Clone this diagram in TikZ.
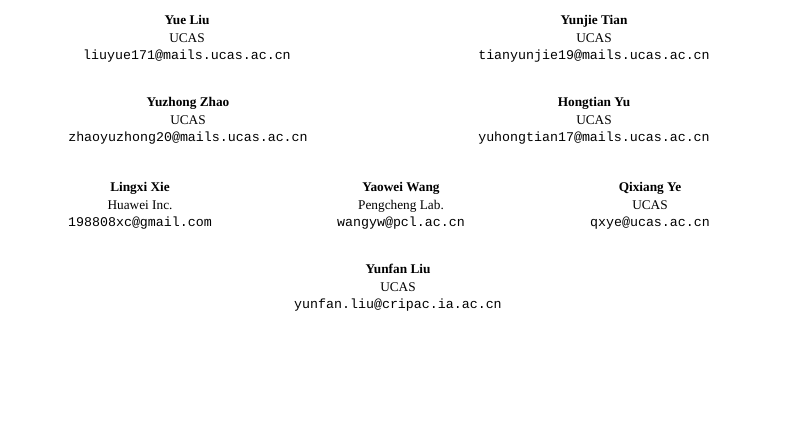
\documentclass[tikz,border=0pt]{standalone}
\usepackage{fontspec}
\setmainfont{Liberation Serif}
\setmonofont{Liberation Mono}
\begin{document}
\begin{tikzpicture}[x=1pt,y=1pt,
 au/.style={align=center,inner sep=0pt,font=\fontsize{13.3}{17.5}\selectfont}]
\useasboundingbox (0,0) rectangle (797,420);
\node[au] (a1) at (187,381) {\textbf{Yue Liu}\\UCAS\\\texttt{liuyue171@mails.ucas.ac.cn}};
\node[au] (a2) at (594,381) {\textbf{Yunjie Tian}\\UCAS\\\texttt{tianyunjie19@mails.ucas.ac.cn}};
\node[au] (a3) at (188,299) {\textbf{Yuzhong Zhao}\\UCAS\\\texttt{zhaoyuzhong20@mails.ucas.ac.cn}};
\node[au] (a4) at (594,299) {\textbf{Hongtian Yu}\\UCAS\\\texttt{yuhongtian17@mails.ucas.ac.cn}};
\node[au] (a5) at (140,214) {\textbf{Lingxi Xie}\\Huawei Inc.\\\texttt{198808xc@gmail.com}};
\node[au] (a6) at (401,214) {\textbf{Yaowei Wang}\\Pengcheng Lab.\\\texttt{wangyw@pcl.ac.cn}};
\node[au] (a7) at (650,214) {\textbf{Qixiang Ye}\\UCAS\\\texttt{qxye@ucas.ac.cn}};
\node[au] (a8) at (398,132) {\textbf{Yunfan Liu}\\UCAS\\\texttt{yunfan.liu@cripac.ia.ac.cn}};
\end{tikzpicture}
\end{document}
